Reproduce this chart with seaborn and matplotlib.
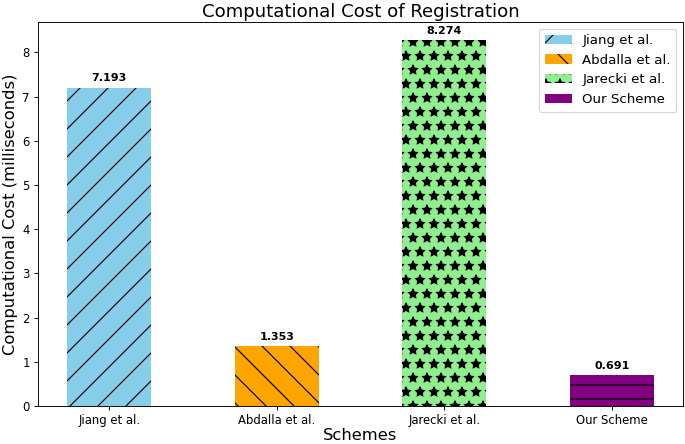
import matplotlib
matplotlib.use("Agg")
import matplotlib.pyplot as plt
import seaborn as sns
import pandas as pd

# --- DATA ---
schemes = ["Jiang et al.", "Abdalla et al.", "Jarecki et al.", "Our Scheme"]
costs = [7.193, 1.353, 8.274, 0.691]
colors = ["skyblue", "orange", "lightgreen", "purple"]
hatches = ["/", "\\", "*", "-"]

df = pd.DataFrame({"Scheme": schemes, "Cost": costs})

DPI = 84
plt.rcParams["hatch.linewidth"] = 1.0
fig, ax = plt.subplots(figsize=(685 / DPI, 444 / DPI), dpi=DPI)
sns.barplot(data=df, x="Scheme", y="Cost", hue="Scheme", palette=colors,
            width=0.5, saturation=1, legend=False, ax=ax)

for patch, h, name in zip(ax.patches, hatches, schemes):
    patch.set_hatch(h)
    patch.set_edgecolor("black")
    patch.set_linewidth(0)
    patch.set_label(name)

for cont, v in zip(ax.containers, costs):
    ax.bar_label(cont, labels=[f"{v:.3f}"], fontsize=9.5, fontweight="bold", padding=4)

# plain matplotlib margins instead of seaborn's categorical limits
ax.set_xlim(-0.425, len(schemes) - 1 + 0.425)

ax.set_title("Computational Cost of Registration", fontsize=15.5, pad=4)
ax.set_xlabel("Schemes", fontsize=14, labelpad=1)
ax.set_ylabel("Computational Cost (milliseconds)", fontsize=14)
ax.tick_params(labelsize=10)
ax.legend(handles=list(ax.patches[:4]), loc="upper right", fontsize=11.5)

fig.subplots_adjust(left=38 / 685, right=683 / 685, top=1 - 22 / 444, bottom=1 - 406 / 444)
plt.savefig("out.png", dpi=DPI)
plt.close()
